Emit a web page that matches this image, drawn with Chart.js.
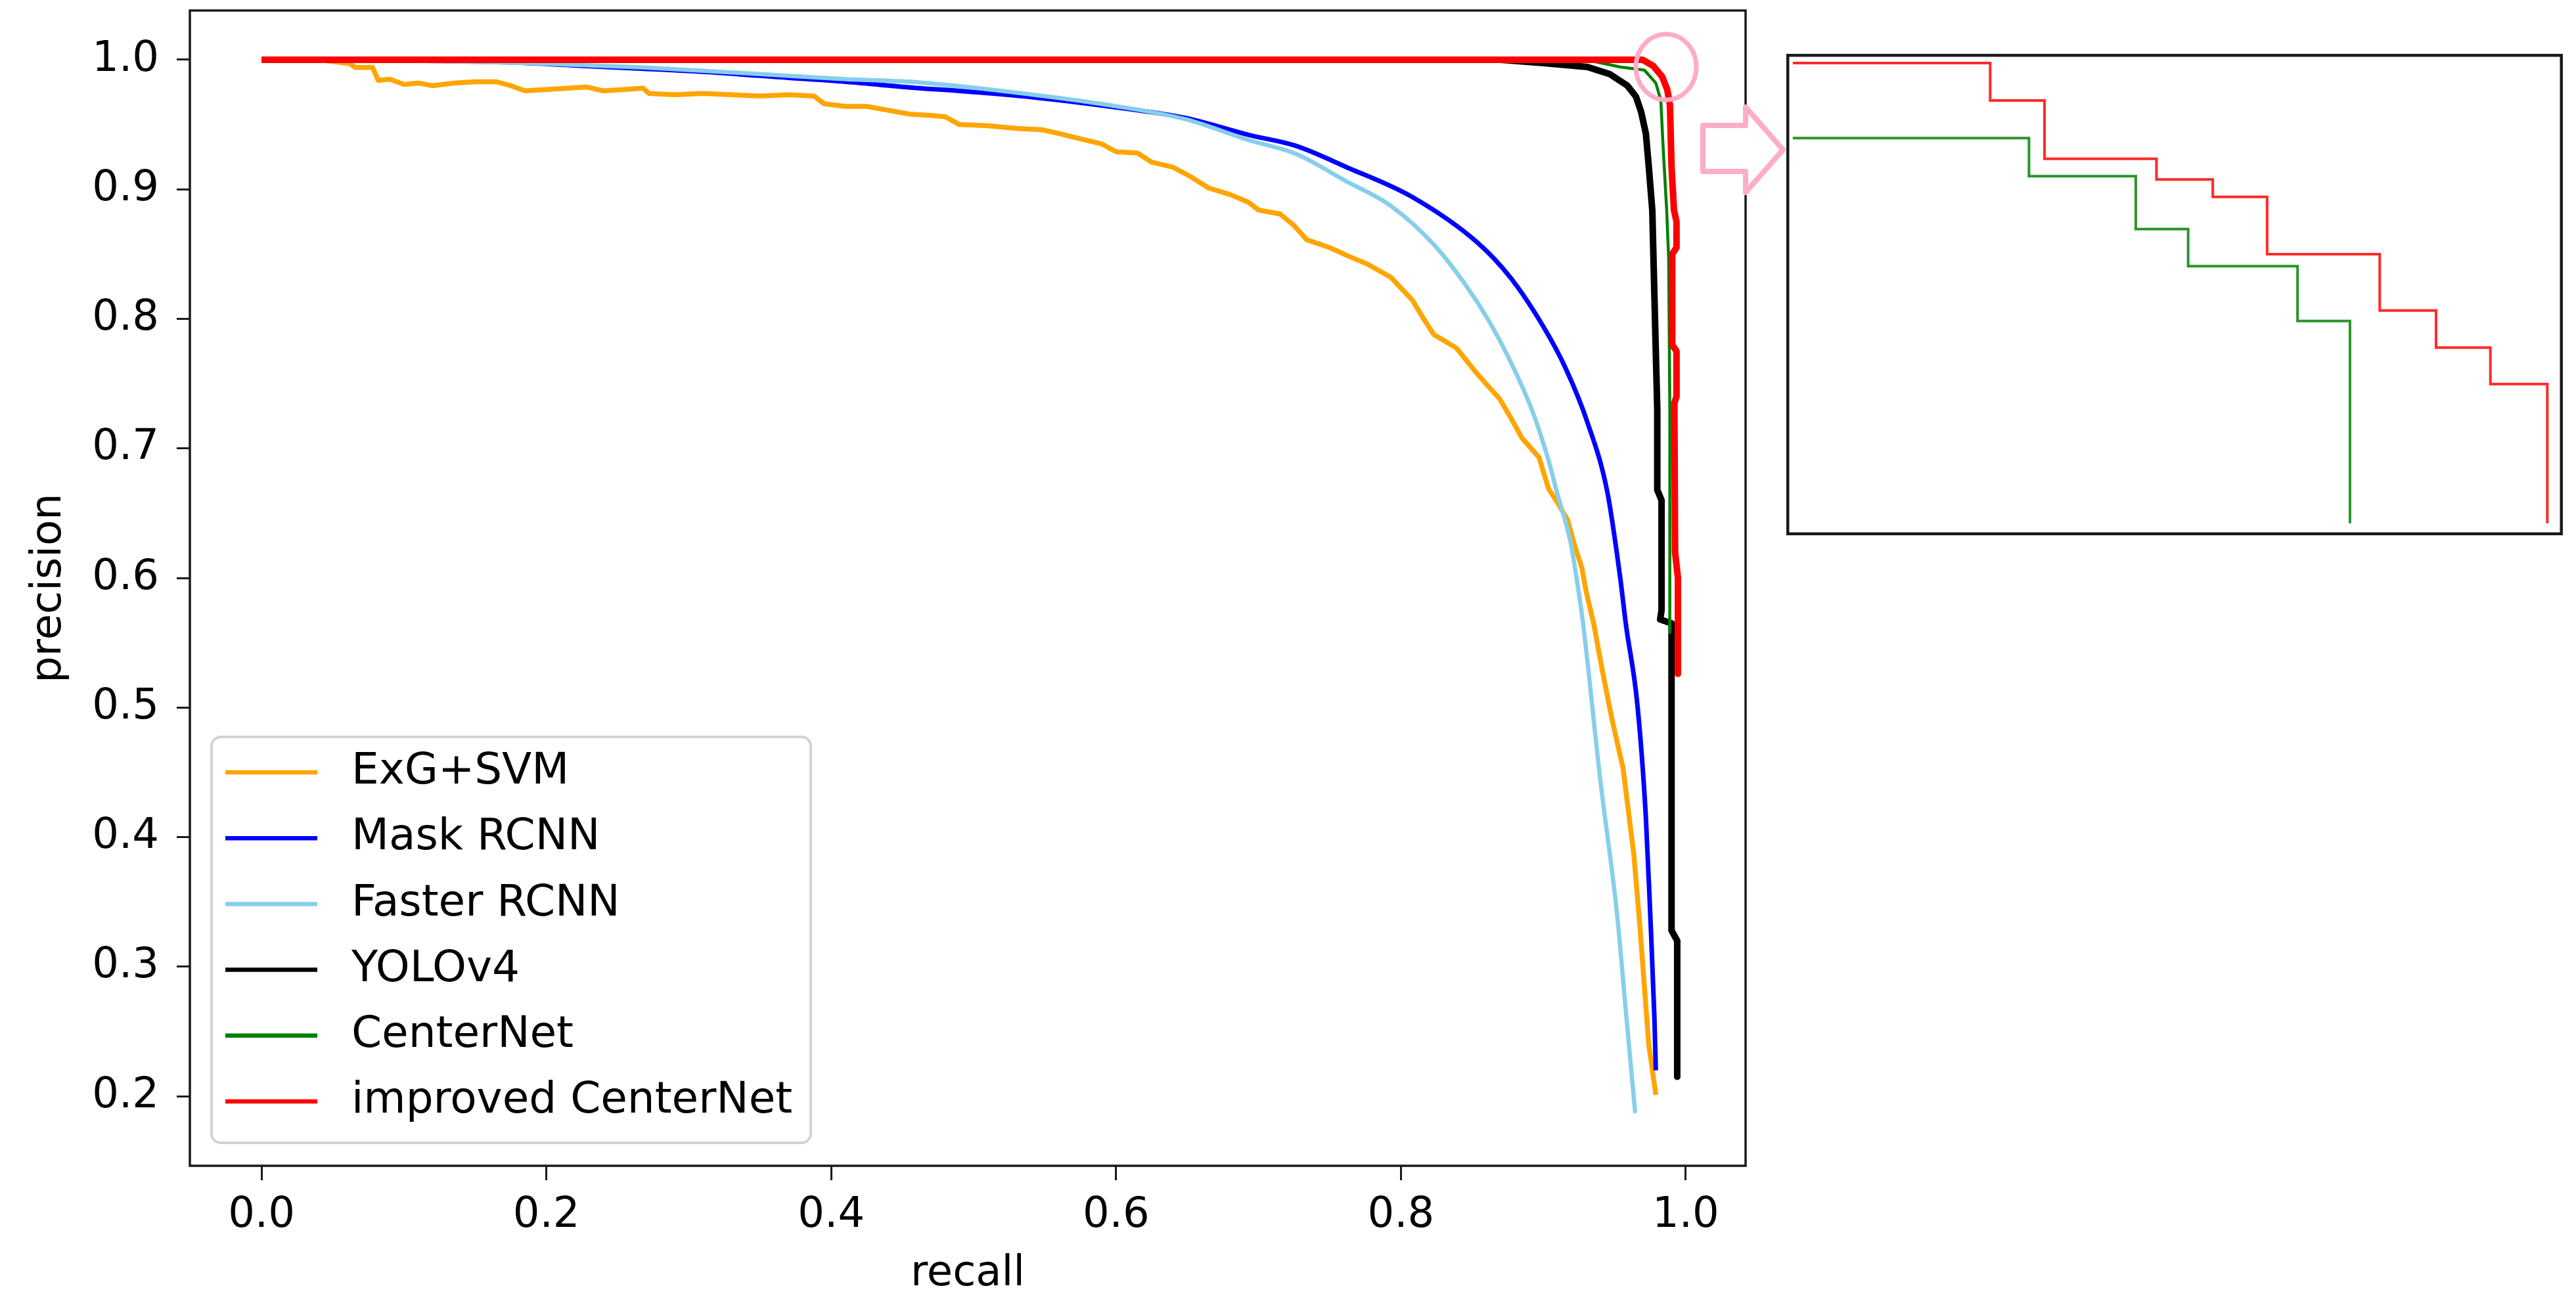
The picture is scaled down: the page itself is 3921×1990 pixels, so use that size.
<!DOCTYPE html>
<html>
<head>
<meta charset="utf-8">
<script src="https://cdn.jsdelivr.net/npm/chart.js@4.4.1/dist/chart.umd.min.js"></script>
<style>
html,body{margin:0;padding:0;background:#fff;overflow:hidden;}
#wrap{position:relative;width:3921px;height:1990px;background:#fff;}
#main{position:absolute;left:0;top:0;}
#inset{position:absolute;left:2719px;top:82px;}
</style>
</head>
<body>
<div id="wrap">
<canvas id="main" width="3921" height="1990"></canvas>
<canvas id="inset" width="1182" height="733"></canvas>
</div>
<script>
// ---------------- data ----------------
const seriesNames = ['ExG+SVM', 'Mask RCNN', 'Faster RCNN', 'YOLOv4', 'CenterNet', 'improved CenterNet'];

const exgRecall = [0.000,0.040,0.062,0.066,0.078,0.082,0.090,0.100,0.110,0.120,0.135,0.150,0.165,0.175,0.185,0.200,0.215,0.228,0.240,0.255,0.268,0.272,0.290,0.310,0.330,0.350,0.370,0.388,0.395,0.410,0.425,0.440,0.455,0.470,0.480,0.490,0.510,0.530,0.548,0.560,0.575,0.590,0.600,0.615,0.625,0.640,0.652,0.665,0.680,0.693,0.700,0.715,0.725,0.734,0.750,0.762,0.777,0.793,0.808,0.816,0.823,0.839,0.854,0.8695,0.878,0.885,0.897,0.9036,0.910,0.917,0.922,0.927,0.930,0.9355,0.941,0.948,0.956,0.9636,0.968,0.974,0.979];
const exgPrecision = [1.000,1.000,0.997,0.994,0.994,0.984,0.985,0.981,0.982,0.980,0.982,0.983,0.983,0.980,0.976,0.977,0.978,0.979,0.976,0.977,0.978,0.974,0.973,0.974,0.973,0.972,0.973,0.972,0.966,0.964,0.964,0.961,0.958,0.957,0.956,0.950,0.949,0.947,0.946,0.943,0.939,0.935,0.929,0.928,0.921,0.917,0.910,0.901,0.896,0.890,0.884,0.881,0.872,0.861,0.855,0.849,0.842,0.832,0.8145,0.800,0.788,0.7775,0.757,0.738,0.722,0.708,0.693,0.669,0.658,0.645,0.625,0.608,0.590,0.564,0.531,0.492,0.453,0.386,0.328,0.240,0.201];

const maskRecall = [0.000,0.100,0.187,0.230,0.269,0.320,0.370,0.410,0.462,0.489,0.542,0.595,0.649,0.693,0.726,0.762,0.808,0.854,0.877,0.900,0.9156,0.931,0.945,0.954,0.958,0.966,0.972,0.975,0.978,0.979];
const maskPrecision = [1.000,0.9995,0.9975,0.995,0.993,0.990,0.986,0.983,0.978,0.976,0.971,0.964,0.955,0.942,0.9336,0.917,0.894,0.8586,0.8317,0.794,0.762,0.720,0.666,0.600,0.564,0.5025,0.415,0.342,0.260,0.220];

const fasterRecall = [0.000,0.100,0.187,0.269,0.350,0.410,0.462,0.542,0.595,0.649,0.693,0.726,0.762,0.7927,0.8234,0.8464,0.862,0.877,0.8926,0.9036,0.9096,0.919,0.9247,0.928,0.940,0.9516,0.958,0.9645];
const fasterPrecision = [1.000,0.9995,0.9975,0.994,0.989,0.985,0.9825,0.973,0.965,0.954,0.938,0.9275,0.906,0.8874,0.857,0.8246,0.798,0.767,0.728,0.691,0.666,0.628,0.590,0.564,0.444,0.342,0.265,0.187];

const yoloRecall = [0.000,0.870,0.900,0.931,0.9465,0.959,0.965,0.9686,0.972,0.974,0.9765,0.978,0.980,0.980,0.983,0.983,0.982,0.990,0.990,0.994,0.994];
const yoloPrecision = [1.000,1.000,0.9975,0.9944,0.989,0.980,0.9716,0.960,0.943,0.918,0.884,0.817,0.730,0.668,0.660,0.575,0.568,0.565,0.328,0.320,0.215];

const centerRecall = [0.000,0.930,0.954,0.971,0.979,0.9825,0.984,0.9866,0.988,0.9888,0.9888];
const centerPrecision = [1.000,1.000,0.9944,0.992,0.982,0.9686,0.9346,0.884,0.8465,0.730,0.558];

const improvedRecall = [0.000,0.9696,0.977,0.9834,0.987,0.9889,0.990,0.9917,0.9935,0.9935,0.9905,0.9905,0.9935,0.9935,0.992,0.9925,0.9945,0.9945];
const improvedPrecision = [1.000,1.000,0.9954,0.987,0.977,0.965,0.918,0.884,0.875,0.855,0.850,0.780,0.775,0.740,0.735,0.620,0.600,0.526];

const xTickValues = [0.0, 0.2, 0.4, 0.6, 0.8, 1.0];
const yTickValues = [0.2, 0.3, 0.4, 0.5, 0.6, 0.7, 0.8, 0.9, 1.0];

// zoomed region marked by the circle (recall, precision)
const zoomCenter = [0.9862, 0.9944];

// inset (magnified step curves)
const insetCenterRecall = [0.98010,0.98375,0.98540,0.98621,0.98790,0.98871];
const insetCenterPrecision = [0.99825,0.99746,0.99636,0.99559,0.99445,0.99025];
const insetImprovedRecall = [0.98010,0.98315,0.98399,0.98572,0.98659,0.98743,0.98917,0.99004,0.99088,0.99176];
const insetImprovedPrecision = [0.99981,0.99903,0.99782,0.99739,0.99703,0.99584,0.99467,0.99390,0.99314,0.99025];
const insetRecallRange = [0.980, 0.992];
const insetPrecisionRange = [0.990, 1.000];

// ---------------- styling ----------------
const colors = ['#ffa500', '#0000ff', '#87ceeb', '#000000', '#008000', '#ff0000'];
const widths = [7.5, 7, 6.5, 10, 4.5, 10];
const smooth = [false, true, true, false, false, false];
const FAMILY = 'DejaVu Sans';
const FONT = {family: FAMILY, size: 64, lineHeight: 1.2};
const PINK = 'rgb(255,172,200)';

const zip = (xs, ys) => xs.map((v, i) => ({x: v, y: ys[i]}));
const seriesData = [
  zip(exgRecall, exgPrecision),
  zip(maskRecall, maskPrecision),
  zip(fasterRecall, fasterPrecision),
  zip(yoloRecall, yoloPrecision),
  zip(centerRecall, centerPrecision),
  zip(improvedRecall, improvedPrecision)
];

const datasets = seriesNames.map((name, i) => ({
  label: name,
  data: seriesData[i],
  borderColor: colors[i],
  backgroundColor: colors[i],
  borderWidth: widths[i],
  pointRadius: 0,
  fill: false,
  tension: smooth[i] ? 0.4 : 0,
  cubicInterpolationMode: smooth[i] ? 'monotone' : 'default',
  order: seriesNames.length - i
}));

const decorPlugin = {
  id: 'decor',
  afterDraw(chart) {
    const {ctx, chartArea: a, scales} = chart;
    ctx.save();
    // frame (spines)
    ctx.strokeStyle = '#1a1a1a';
    ctx.lineWidth = 3.5;
    ctx.strokeRect(a.left, a.top, a.right - a.left, a.bottom - a.top);

    // legend
    const ds = chart.data.datasets;
    ctx.font = '66px "' + FAMILY + '"';
    let maxW = 0;
    ds.forEach(d => { maxW = Math.max(maxW, ctx.measureText(d.label).width); });
    const rowH = 100.2, padTop = 54, padBot = 63;
    const bh = padTop + rowH * (ds.length - 1) + padBot;
    const bx = a.left + 33, by = a.bottom - 35 - bh;
    const bw = 21 + 140 + 52 + maxW + 28;
    ctx.beginPath();
    ctx.roundRect(bx, by, bw, bh, 14);
    ctx.fillStyle = 'rgba(255,255,255,0.8)';
    ctx.fill();
    ctx.strokeStyle = '#d2d2d2';
    ctx.lineWidth = 4;
    ctx.stroke();
    ds.forEach((d, i) => {
      const cy = by + padTop + i * rowH;
      ctx.beginPath();
      ctx.moveTo(bx + 21, cy);
      ctx.lineTo(bx + 161, cy);
      ctx.strokeStyle = d.borderColor;
      ctx.lineWidth = 6.5;
      ctx.lineCap = 'butt';
      ctx.stroke();
      ctx.fillStyle = '#000';
      ctx.textAlign = 'left';
      ctx.textBaseline = 'middle';
      ctx.fillText(d.label, bx + 213, cy);
    });

    // pink circle around the magnified region
    const cx = scales.x.getPixelForValue(zoomCenter[0]);
    const cyc = scales.y.getPixelForValue(zoomCenter[1]);
    ctx.beginPath();
    ctx.ellipse(cx, cyc, 46, 50, 0, 0, Math.PI * 2);
    ctx.strokeStyle = PINK;
    ctx.lineWidth = 7;
    ctx.stroke();

    // pink outline arrow pointing to the inset
    const R = a.right, T = a.top;
    ctx.beginPath();
    ctx.moveTo(R - 65, T + 175);
    ctx.lineTo(R, T + 175);
    ctx.lineTo(R, T + 147);
    ctx.lineTo(R + 57, T + 212);
    ctx.lineTo(R, T + 277);
    ctx.lineTo(R, T + 245);
    ctx.lineTo(R - 65, T + 245);
    ctx.closePath();
    ctx.fillStyle = '#fff';
    ctx.fill();
    ctx.strokeStyle = PINK;
    ctx.lineWidth = 8;
    ctx.lineJoin = 'round';
    ctx.stroke();
    ctx.restore();
  }
};

new Chart(document.getElementById('main'), {
  type: 'line',
  data: {datasets},
  options: {
    responsive: false,
    animation: false,
    devicePixelRatio: 1,
    layout: {padding: {left: 0, top: 16, right: 1264, bottom: 0}},
    plugins: {legend: {display: false}, tooltip: {enabled: false}},
    elements: {point: {radius: 0}, line: {borderJoinStyle: 'round'}},
    scales: {
      x: {
        type: 'linear',
        min: -0.0503,
        max: 1.042,
        afterBuildTicks: s => { s.ticks = xTickValues.map(v => ({value: v})); },
        afterFit: s => { s.height = 215; s.paddingLeft = 0; s.paddingRight = 0; },
        ticks: {font: FONT, color: '#000', padding: 16, maxRotation: 0, autoSkip: false,
                callback: v => Number(v).toFixed(1)},
        grid: {display: true, drawOnChartArea: false, drawTicks: true, tickLength: 22,
               tickWidth: 3, tickColor: '#1a1a1a', color: '#1a1a1a'},
        border: {display: false},
        title: {display: true, text: 'recall', font: FONT, color: '#000', padding: {top: 0, bottom: 11}}
      },
      y: {
        type: 'linear',
        min: 0.1463,
        max: 1.038,
        afterBuildTicks: s => { s.ticks = yTickValues.map(v => ({value: v})); },
        afterFit: s => { s.width = 289; s.paddingTop = 0; s.paddingBottom = 0; },
        ticks: {font: FONT, color: '#000', padding: 27, autoSkip: false,
                callback: v => Number(v).toFixed(1)},
        grid: {display: true, drawOnChartArea: false, drawTicks: true, tickLength: 20,
               tickWidth: 3, tickColor: '#1a1a1a', color: '#1a1a1a'},
        border: {display: false},
        title: {display: true, text: 'precision', font: FONT, color: '#000', padding: {top: 37, bottom: 0}}
      }
    }
  },
  plugins: [decorPlugin]
});

const insetFrame = {
  id: 'insetFrame',
  afterDraw(chart) {
    const {ctx, width, height} = chart;
    ctx.save();
    ctx.strokeStyle = '#1a1a1a';
    ctx.lineWidth = 4.5;
    ctx.strokeRect(2.25, 2.25, width - 4.5, height - 4.5);
    ctx.restore();
  }
};

new Chart(document.getElementById('inset'), {
  type: 'line',
  data: {
    datasets: [
      {label: 'CenterNet', data: zip(insetCenterRecall, insetCenterPrecision), borderColor: '#2a952a',
       borderWidth: 4, stepped: 'before', pointRadius: 0, fill: false},
      {label: 'improved CenterNet', data: zip(insetImprovedRecall, insetImprovedPrecision), borderColor: '#ff2a2a',
       borderWidth: 4, stepped: 'before', pointRadius: 0, fill: false}
    ]
  },
  options: {
    responsive: false,
    animation: false,
    devicePixelRatio: 1,
    layout: {padding: 0},
    plugins: {legend: {display: false}, tooltip: {enabled: false}},
    scales: {
      x: {type: 'linear', display: false, min: insetRecallRange[0], max: insetRecallRange[1]},
      y: {type: 'linear', display: false, min: insetPrecisionRange[0], max: insetPrecisionRange[1]}
    }
  },
  plugins: [insetFrame]
});
</script>
</body>
</html>
